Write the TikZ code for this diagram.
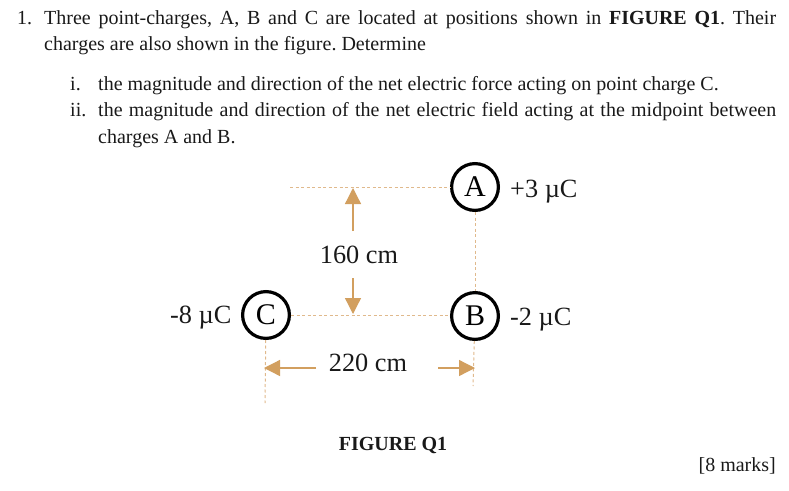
\documentclass[tikz,border=0pt]{standalone}
\usepackage{fontspec}
\setmainfont{Liberation Serif}
\usetikzlibrary{arrows.meta}
\definecolor{tan1}{HTML}{D29F5F}
\definecolor{tan2}{HTML}{E0B98C}
\tikzset{
 x=1pt,y=-1pt,
 body/.style={anchor=base west,inner sep=0pt,font=\fontsize{20}{20}\selectfont,text=black!90},
 lab/.style={anchor=base,inner sep=0pt,font=\fontsize{26.3}{26.3}\selectfont,text=black!90},
 charge/.style={circle,draw=black,line width=3.2pt,minimum size=46.8pt,inner sep=0pt,font=\fontsize{30}{30}\selectfont},
 guide/.style={draw=tan2,line width=1pt,dash pattern=on 3pt off 2.5pt},
 dimarrow/.style={draw=tan1,line width=1.3pt,-{Triangle[length=16pt,width=16pt,fill=tan1]}}
}
\begin{document}
\begin{tikzpicture}
\useasboundingbox (0,0) rectangle (789,490);
\node[body] (n1) at (17,24) {1.};
\node[body] (l1) at (44,24) {\makebox[732pt][s]{\frenchspacing Three point-charges, A, B and C are located at positions shown in \textbf{FIGURE Q1}. Their}};
\node[body] (l2) at (44,50) {\frenchspacing charges are also shown in the figure. Determine};
\node[body] (ni) at (70,90) {i.};
\node[body] (li) at (98,90) {the magnitude and direction of the net electric force acting on point charge C.};
\node[body] (nii) at (70,116) {ii.};
\node[body] (lii) at (98,116) {\makebox[678pt][s]{the magnitude and direction of the net electric field acting at the midpoint between}};
\node[body] (liii) at (98,143) {charges A and B.};
\node[charge] (A) at (475,187) {A};
\node[charge] (B) at (475,316) {B};
\node[charge] (C) at (266,315) {C};
\node[lab,anchor=base west] (qa) at (510,197) {+3 µC};
\node[lab,anchor=base west] (qb) at (510,325) {-2 µC};
\node[lab,anchor=base west] (qc) at (170,323) {-8 µC};
\node[lab] (d160) at (359,263) {160 cm};
\node[lab] (d220) at (368,371) {220 cm};
\node[body,anchor=base] (fig) at (393,450) {\textbf{FIGURE Q1}};
\node[body,anchor=base east] (marks) at (776,471) {[8 marks]};
\coordinate (g1) at (290,187);
\coordinate (g2) at (265,403);
\coordinate (g3) at (473,386);
\coordinate (up0) at (353,231);
\coordinate (up1) at (353,188);
\coordinate (dn0) at (353,278);
\coordinate (dn1) at (353,314);
\coordinate (lf0) at (316,368);
\coordinate (lf1) at (264,368);
\coordinate (rt0) at (438,368);
\coordinate (rt1) at (475,368);
\draw[guide] (g1) -- (A);
\draw[guide] (A) -- (B);
\draw[guide] (C) -- (C -| B.west);
\draw[guide] (C) -- (g2);
\draw[guide] (B) -- (g3);
\draw[dimarrow] (up0) -- (up1);
\draw[dimarrow] (dn0) -- (dn1);
\draw[dimarrow] (lf0) -- (lf1);
\draw[dimarrow] (rt0) -- (rt1);
\end{tikzpicture}
\end{document}
